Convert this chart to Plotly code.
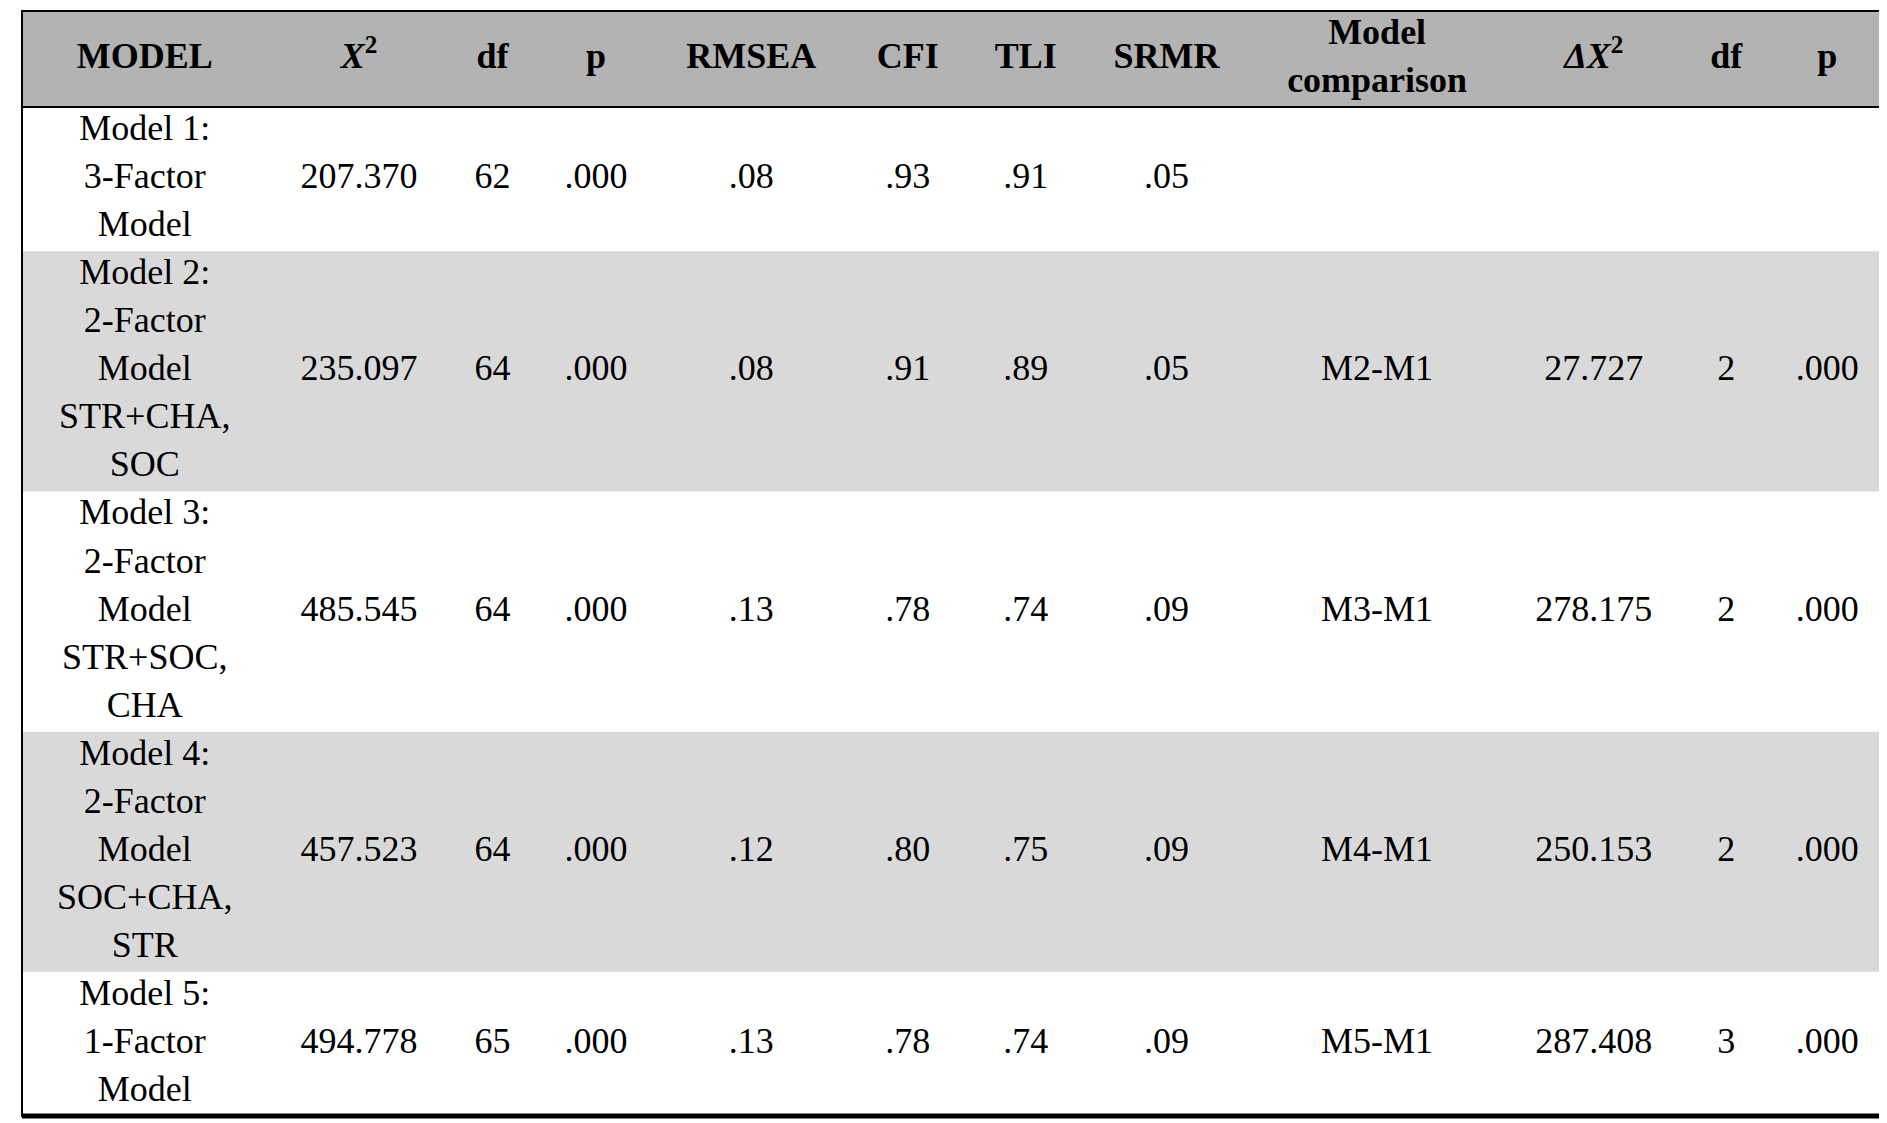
import plotly.graph_objects as go

HEADERS = ["MODEL", "<i>X</i><sup>2</sup>", "df", "p", "RMSEA", "CFI", "TLI", "SRMR",
           "Model<br>comparison", "<i>ΔX</i><sup>2</sup>", "df", "p"]
MODELS = [
    "Model 1:<br>3-Factor<br>Model",
    "Model 2:<br>2-Factor<br>Model<br>STR+CHA,<br>SOC",
    "Model 3:<br>2-Factor<br>Model<br>STR+SOC,<br>CHA",
    "Model 4:<br>2-Factor<br>Model<br>SOC+CHA,<br>STR",
    "Model 5:<br>1-Factor<br>Model",
]
CHI2 = ["207.370", "235.097", "485.545", "457.523", "494.778"]
DF = ["62", "64", "64", "64", "65"]
P = [".000", ".000", ".000", ".000", ".000"]
RMSEA = [".08", ".08", ".13", ".12", ".13"]
CFI = [".93", ".91", ".78", ".80", ".78"]
TLI = [".91", ".89", ".74", ".75", ".74"]
SRMR = [".05", ".05", ".09", ".09", ".09"]
COMPARISON = ["", "M2-M1", "M3-M1", "M4-M1", "M5-M1"]
DCHI2 = ["", "27.727", "278.175", "250.153", "287.408"]
DDF = ["", "2", "2", "2", "3"]
DP = ["", ".000", ".000", ".000", ".000"]

# column centres (layout, in axis units)
COL_X = [114, 292, 403, 489, 618, 748, 846, 963, 1138, 1318, 1428, 1512]
X0, X1 = 12, 1560
FONT = "Liberation Serif, Times New Roman, Times, serif"
FS = 36
HEADER_LINES = 2

columns = [MODELS, CHI2, DF, P, RMSEA, CFI, TLI, SRMR, COMPARISON, DCHI2, DDF, DP]
row_lines = [m.count("<br>") + 1 for m in MODELS]
total = HEADER_LINES + sum(row_lines)

fig = go.Figure()

# row bands
y = HEADER_LINES
centres = []
for i, n in enumerate(row_lines):
    if i % 2 == 1:
        fig.add_shape(type="rect", xref="x", yref="y", x0=X0, x1=X1, y0=y, y1=y + n,
                      fillcolor="#d9d9d9", line_width=0, layer="below")
    centres.append((y, n))
    y += n
fig.add_shape(type="rect", xref="x", yref="y", x0=X0, x1=X1, y0=0, y1=HEADER_LINES,
              fillcolor="#b3b3b3", line_width=0, layer="below")

# header text
hx, hy, ht = [], [], []
for cx, h in zip(COL_X, HEADERS):
    parts = h.split("<br>")
    for k, part in enumerate(parts):
        hx.append(cx)
        hy.append(HEADER_LINES / 2 + (k - (len(parts) - 1) / 2))
        ht.append("<b>" + part + "</b>")
fig.add_trace(go.Scatter(x=hx, y=hy, text=ht, mode="text", textposition="middle center",
                         textfont=dict(family=FONT, size=FS, color="black"), hoverinfo="skip",
                         cliponaxis=False))

# body text
bx, by, bt = [], [], []
for cx, col in zip(COL_X, columns):
    for (top, n), val in zip(centres, col):
        parts = val.split("<br>")
        for k, part in enumerate(parts):
            if not part:
                continue
            bx.append(cx)
            by.append(top + n / 2 + (k - (len(parts) - 1) / 2))
            bt.append(part)
fig.add_trace(go.Scatter(x=bx, y=by, text=bt, mode="text", textposition="middle center",
                         textfont=dict(family=FONT, size=FS, color="black"), hoverinfo="skip",
                         cliponaxis=False))

# frame and rules (paper coordinates so nothing is clipped)
fig.add_shape(type="rect", xref="paper", yref="paper", x0=0, x1=1, y0=0, y1=1,
              line=dict(color="black", width=2))
fig.add_shape(type="line", xref="x", yref="y", x0=X0, x1=X1, y0=HEADER_LINES, y1=HEADER_LINES,
              line=dict(color="black", width=2))
fig.add_shape(type="line", xref="paper", yref="paper", x0=0, x1=1, y0=0, y1=0,
              line=dict(color="black", width=5))

fig.update_layout(
    width=1887, height=1123,
    margin=dict(l=14, r=10, t=3, b=15),
    paper_bgcolor="white", plot_bgcolor="white",
    showlegend=False,
    xaxis=dict(range=[X0, X1], visible=False, fixedrange=True),
    yaxis=dict(range=[total, 0], visible=False, fixedrange=True),
)

fig.write_html("out.html")
